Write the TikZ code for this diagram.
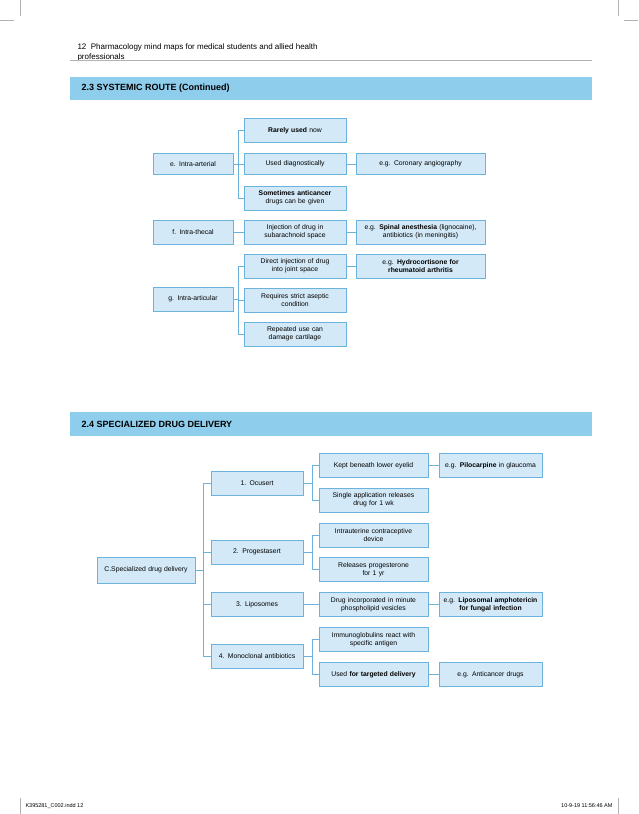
\documentclass[tikz,border=0pt]{standalone}
\usepackage{fontspec}
\setmainfont{Liberation Sans}
\definecolor{boxfill}{HTML}{D3E9F7}
\definecolor{boxline}{HTML}{6BB3DD}
\definecolor{band}{HTML}{8ECDEB}
\tikzstyle{box} = [rectangle, draw=boxline, fill=boxfill, line width=0.8pt,
text centered, inner sep=1pt, font=\fontsize{6.8}{7.8}\selectfont,
minimum height=24pt]
\tikzstyle{wa} = [box, minimum width=80pt, text width=78pt]
\tikzstyle{wb} = [box, minimum width=102pt, text width=100pt]
\tikzstyle{wc} = [box, minimum width=129pt, text width=127pt]
\tikzstyle{wd} = [box, minimum width=92pt, text width=90pt]
\tikzstyle{we} = [box, minimum width=109pt, text width=107pt]
\tikzstyle{wf} = [box, minimum width=103pt, text width=101pt]
\tikzstyle{link} = [draw=boxline, line width=0.8pt]
\begin{document}
\begin{tikzpicture}[x=1pt, y=-1pt]
\useasboundingbox (0,0) rectangle (638,814);
% header and crop marks
\draw [gray!60, line width=0.4pt] (20,0) -- (20,16) (618,0) -- (618,16)
      (20,798) -- (20,814) (618,798) -- (618,814) (0,20) -- (14,20) (624,20) -- (638,20);
\node (head) [anchor=west, font=\fontsize{8}{10}\selectfont, align=left] at (74,52)
  {12\ \ Pharmacology mind maps for medical students and allied health\\professionals};
\draw [gray!60, line width=0.4pt] (70,60) -- (592,60);
\node (foot l) [anchor=west, font=\fontsize{5.5}{6}\selectfont] at (22,806) {K395281\_C002.indd 12};
\node (foot r) [anchor=east, font=\fontsize{5.5}{6}\selectfont] at (616,806) {10-9-19 11:56:46 AM};

\node (band1) [fill=band, minimum width=522pt, minimum height=23pt, inner sep=0pt] at (331,88.5) {};
\node [anchor=west, font=\fontsize{9}{10}\bfseries] at (78,88.5) {2.3 SYSTEMIC ROUTE (Continued)};
\node (band2) [fill=band, minimum width=522pt, minimum height=24pt, inner sep=0pt] at (331,424) {};
\node [anchor=west, font=\fontsize{9}{10}\bfseries] at (78,424) {2.4 SPECIALIZED DRUG DELIVERY};

% 2.3
\node (arterial) [wa, minimum height=21pt] at (193,164) {e. Intra-arterial};
\node (rare) [wb] at (295,130.5) {\textbf{Rarely used} now};
\node (diag) [wb, minimum height=21pt] at (295,164) {Used diagnostically};
\node (coronary) [wc, minimum height=21pt] at (420.5,164) {e.g. Coronary angiography};
\node (cancer) [wb] at (295,198) {\textbf{Sometimes anticancer}\\drugs can be given};
\node (thecal) [wa] at (193,232) {f. Intra-thecal};
\node (inject) [wb] at (295,232) {Injection of drug in\\subarachnoid space};
\node (spinal) [wc] at (420.5,232) {e.g. \textbf{Spinal anesthesia} (lignocaine),\\antibiotics (in meningitis)};
\node (articular) [wa] at (193,299) {g. Intra-articular};
\node (direct) [wb] at (295,266) {Direct injection of drug\\into joint space};
\node (hydro) [wc] at (420.5,266) {e.g. \textbf{Hydrocortisone for}\\\textbf{rheumatoid arthritis}};
\node (aseptic) [wb] at (295,300) {Requires strict aseptic\\condition};
\node (repeat) [wb] at (295,334) {Repeated use can\\damage cartilage};

\coordinate (ja) at (238,164);
\coordinate (jg) at (238,299);
\draw [link] (arterial) -- (ja) (ja) |- (rare) (ja) -- (diag) (ja) |- (cancer);
\draw [link] (diag) -- (coronary) (thecal) -- (inject) (inject) -- (spinal);
\draw [link] (articular) -- (jg) (jg) |- (direct) (jg) |- (aseptic) (jg) |- (repeat);
\draw [link] (direct) -- (hydro);

% 2.4
\node (special) [wa, minimum width=98pt, text width=96pt, minimum height=26pt] at (146,570) {C.Specialized drug delivery};
\node (ocusert) [wd] at (257,483) {1. Ocusert};
\node (progest) [wd] at (257,552) {2. Progestasert};
\node (lipo) [wd] at (257,604.5) {3. Liposomes};
\node (mono) [wd] at (257,656.5) {4. Monoclonal antibiotics};
\node (eyelid) [we] at (373.5,465.5) {Kept beneath lower eyelid};
\node (single) [we] at (373.5,500) {Single application releases\\drug for 1 wk};
\node (iud) [we] at (373.5,535) {Intrauterine contraceptive\\device};
\node (release) [we] at (373.5,569.5) {Releases progesterone\\for 1 yr};
\node (vesicle) [we] at (373.5,604.5) {Drug incorporated in minute\\phospholipid vesicles};
\node (immuno) [we] at (373.5,639.5) {Immunoglobulins react with\\specific antigen};
\node (target) [we] at (373.5,674.5) {Used \textbf{for targeted delivery}};
\node (pilo) [wf] at (490.5,465.5) {e.g. \textbf{Pilocarpine} in glaucoma};
\node (ampho) [wf] at (490.5,604.5) {e.g. \textbf{Liposomal amphotericin}\\\textbf{for fungal infection}};
\node (anti) [wf] at (490.5,674.5) {e.g. Anticancer drugs};

\coordinate (jc) at (203,570);
\coordinate (jo) at (312,483);
\coordinate (jp) at (312,552);
\coordinate (jm) at (312,656.5);
\draw [link] (special) -- (jc) (jc) |- (ocusert) (jc) |- (progest) (jc) |- (lipo) (jc) |- (mono);
\draw [link] (ocusert) -- (jo) (jo) |- (eyelid) (jo) |- (single);
\draw [link] (progest) -- (jp) (jp) |- (iud) (jp) |- (release);
\draw [link] (mono) -- (jm) (jm) |- (immuno) (jm) |- (target);
\draw [link] (lipo) -- (vesicle) (vesicle) -- (ampho) (eyelid) -- (pilo) (target) -- (anti);
\end{tikzpicture}
\end{document}
